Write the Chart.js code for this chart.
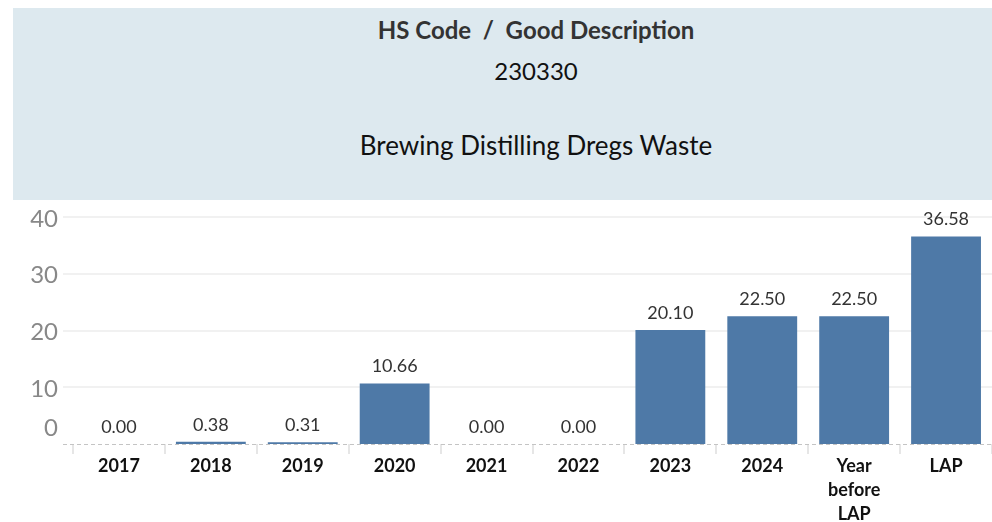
<!DOCTYPE html>
<html>
<head>
<meta charset="utf-8">
<script src="https://cdn.jsdelivr.net/npm/chart.js@4"></script>
<style>
    body { margin: 0; width: 992px; height: 522px; background: #fff; position: relative; overflow: hidden; font-family: Lato, "Open Sans", sans-serif; }
    #header { position: absolute; left: 13px; top: 8px; width: 979px; height: 192px; background: #dde9ef; }
    .htxt { position: absolute; left: 536px; transform: translate(-50%, -50%); white-space: nowrap; }
    #t1 { top: 29px; font-size: 24px; font-weight: bold; color: #333; }
    #t2 { top: 70px; font-size: 24px; color: #111; }
    #t3 { top: 145px; font-size: 26px; color: #111; }
    #wrap { position: absolute; left: 0; top: 200px; width: 992px; height: 322px; }
</style>
</head>
<body>
<div id="header"></div>
<div class="htxt" id="t1">HS Code&nbsp;&nbsp;/&nbsp;&nbsp;Good Description</div>
<div class="htxt" id="t2">230330</div>
<div class="htxt" id="t3">Brewing Distilling Dregs Waste</div>
<div id="wrap"><canvas id="chart"></canvas></div>
<script>
// Chart data
const categories = ['2017', '2018', '2019', '2020', '2021', '2022', '2023', '2024', ['Year', 'before', 'LAP'], 'LAP'];
const values = [0.00, 0.38, 0.31, 10.66, 0.00, 0.00, 20.10, 22.50, 22.50, 36.58];
const yTicks = [0, 10, 20, 30, 40];

const barColor = '#4e79a7';
const fontFamily = 'Lato, "Open Sans", sans-serif';

// Grid lines, dashed zero line and y labels (Tableau style, starting left of the bars)
const axisDecor = {
    id: 'axisDecor',
    beforeDatasetsDraw(chart) {
        const ctx = chart.ctx;
        const y = chart.scales.y;
        const right = chart.chartArea.right;
        ctx.save();
        ctx.strokeStyle = '#ececec';
        ctx.lineWidth = 1.5;
        yTicks.forEach(v => {
            if (v === 0) return;
            const py = Math.round(y.getPixelForValue(v));
            ctx.beginPath();
            ctx.moveTo(63, py);
            ctx.lineTo(right, py);
            ctx.stroke();
        });
        const p0 = Math.round(y.getPixelForValue(0)) + 0.5;
        ctx.strokeStyle = '#c4c4c4';
        ctx.lineWidth = 1;
        ctx.setLineDash([4, 3]);
        ctx.beginPath();
        ctx.moveTo(63, p0);
        ctx.lineTo(right, p0);
        ctx.stroke();
        ctx.setLineDash([]);

        ctx.font = '24px ' + fontFamily;
        ctx.fillStyle = '#888';
        ctx.textAlign = 'right';
        ctx.textBaseline = 'middle';
        yTicks.forEach(v => {
            let py = y.getPixelForValue(v) + 2;
            if (v === 0) py -= 18;
            ctx.fillText(String(v), 58, py);
        });
        ctx.restore();
    },
    afterDatasetsDraw(chart) {
        // value labels above each bar
        const ctx = chart.ctx;
        const meta = chart.getDatasetMeta(0);
        ctx.save();
        ctx.font = '18px ' + fontFamily;
        ctx.fillStyle = '#333';
        ctx.textAlign = 'center';
        ctx.textBaseline = 'middle';
        meta.data.forEach((bar, i) => {
            ctx.fillText(values[i].toFixed(2), bar.x, bar.y - 17);
        });
        ctx.restore();
    }
};

new Chart(document.getElementById('chart'), {
    type: 'bar',
    data: {
        labels: categories,
        datasets: [{
            data: values,
            backgroundColor: barColor,
            barPercentage: 0.76,
            categoryPercentage: 1.0
        }]
    },
    options: {
        responsive: true,
        maintainAspectRatio: false,
        animation: false,
        layout: { padding: { top: 17, right: 0, left: 0, bottom: 0 } },
        plugins: {
            legend: { display: false },
            tooltip: { enabled: false }
        },
        scales: {
            x: {
                grid: {
                    display: true,
                    drawOnChartArea: false,
                    drawTicks: true,
                    tickLength: 10,
                    color: '#e6e6e6',
                    lineWidth: 2
                },
                border: { display: false },
                ticks: {
                    font: { family: fontFamily, size: 18, weight: 'bold', lineHeight: 1.33 },
                    color: '#111',
                    padding: 0,
                    maxRotation: 0,
                    autoSkip: false
                },
                afterFit(scale) { scale.height = 78; }
            },
            y: {
                min: 0,
                max: 40,
                afterBuildTicks(scale) { scale.ticks = yTicks.map(v => ({ value: v })); },
                grid: { display: false, drawTicks: false },
                border: { display: false },
                ticks: { display: false },
                afterFit(scale) { scale.width = 73; }
            }
        }
    },
    plugins: [axisDecor]
});
</script>
</body>
</html>
